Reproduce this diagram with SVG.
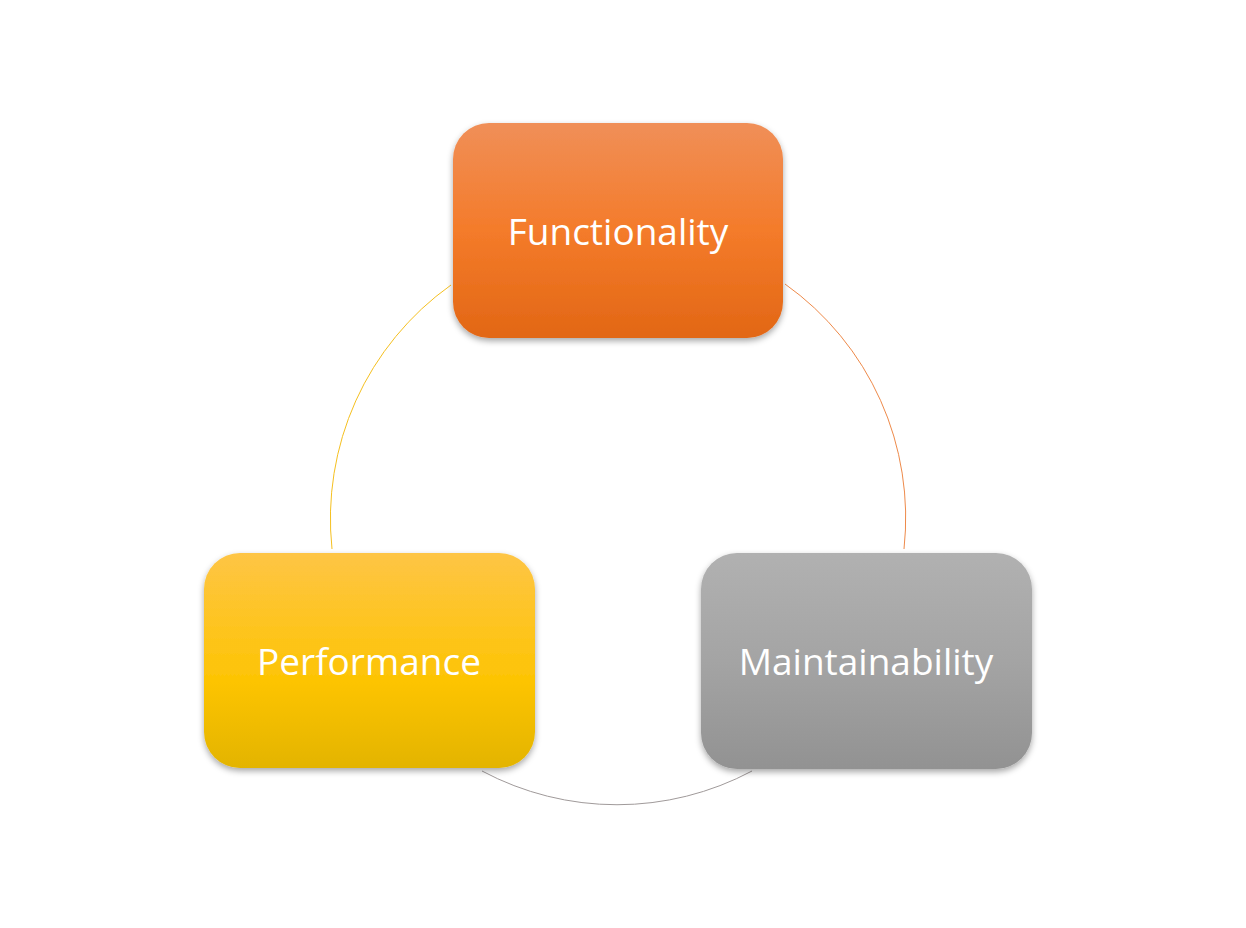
<svg xmlns="http://www.w3.org/2000/svg" width="1246" height="928" viewBox="0 0 1246 928">
<defs>
<linearGradient id="gO" x1="0" y1="0" x2="0" y2="1"><stop offset="0" stop-color="#f08f58"/><stop offset="0.5" stop-color="#f47b2a"/><stop offset="1" stop-color="#e26715"/></linearGradient>
<linearGradient id="gY" x1="0" y1="0" x2="0" y2="1"><stop offset="0" stop-color="#fec545"/><stop offset="0.6" stop-color="#fdc403"/><stop offset="1" stop-color="#e3b400"/></linearGradient>
<linearGradient id="gG" x1="0" y1="0" x2="0" y2="1"><stop offset="0" stop-color="#b1b1b1"/><stop offset="0.5" stop-color="#a4a4a4"/><stop offset="1" stop-color="#929292"/></linearGradient>
<filter id="sh" x="-10%" y="-10%" width="120%" height="125%"><feDropShadow dx="0" dy="3" stdDeviation="3" flood-color="#000" flood-opacity="0.35"/></filter>
</defs>
<style>
text{font-family:"Open Sans","Liberation Sans",sans-serif;font-size:37px;fill:#fff;text-anchor:middle;dominant-baseline:central}
.c{fill:none;stroke-width:1}
</style>
<rect width="1246" height="928" fill="#fff"/>
<g id="connectors">
<path class="c" stroke="#f5c020" d="M332,549 A287,287 0 0 1 451,285"/>
<path class="c" stroke="#ee8a4a" d="M785,284 A287,287 0 0 1 904,549"/>
<path class="c" stroke="#a09a9a" d="M752,771 A287,287 0 0 1 482,771"/>
</g>
<g id="functionality"><rect x="453" y="123" width="330" height="215" rx="36" fill="url(#gO)" filter="url(#sh)"/><text x="618" y="230">Functionality</text></g>
<g id="performance"><rect x="204" y="553" width="331" height="215" rx="36" fill="url(#gY)" filter="url(#sh)"/><text x="369" y="660">Performance</text></g>
<g id="maintainability"><rect x="701" y="553" width="331" height="216" rx="36" fill="url(#gG)" filter="url(#sh)"/><text x="866" y="660">Maintainability</text></g>
</svg>
